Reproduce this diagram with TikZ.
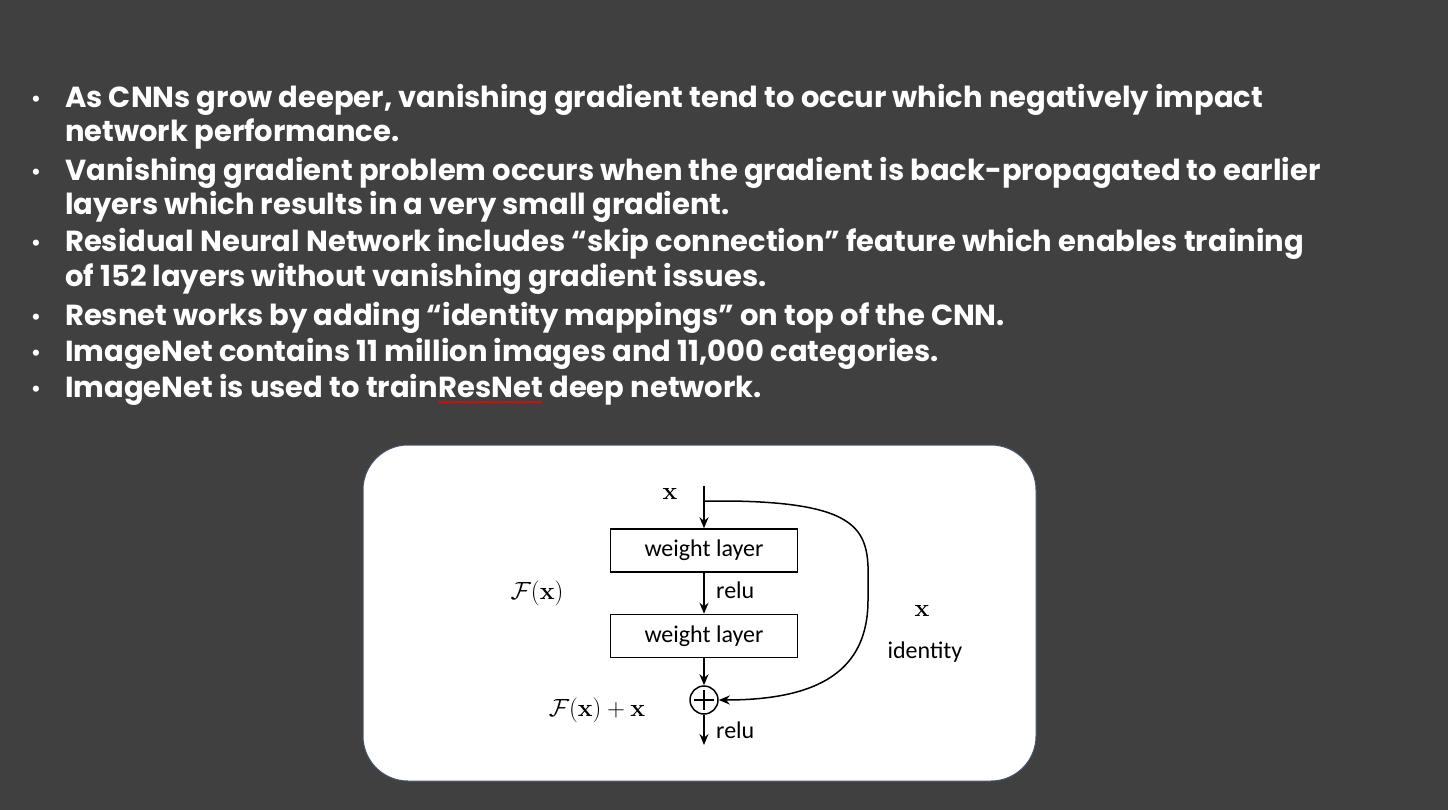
\documentclass[tikz,border=0pt]{standalone}
\usepackage[no-math]{fontspec}
\setmainfont{Poppins}
\newfontfamily\carlfont{Carlito}
\usetikzlibrary{decorations.pathmorphing,arrows.meta}
\begin{document}
\begin{tikzpicture}[x=1pt,y=-1pt,
  line/.style={font=\fontsize{29}{34}\selectfont\bfseries,text=white,anchor=base west,inner sep=0},
  bul/.style={font=\fontsize{25}{30}\selectfont,text=white,anchor=base,inner sep=0},
  wl/.style={draw,line width=1.5pt,minimum width=187pt,minimum height=43pt,font=\carlfont\fontsize{24}{26}\selectfont,inner sep=0},
  lbl/.style={font=\carlfont\fontsize{24}{26}\selectfont,inner sep=0},
  mth/.style={font=\fontsize{27}{29}\selectfont,inner sep=0},
  arr/.style={line width=1.5pt,-{Stealth[length=11pt,width=9pt]}}]
\useasboundingbox (0,0) rectangle (1448,810);
\fill[fill={rgb,255:red,64;green,64;blue,64}] (0,0) rectangle (1448,810);
\foreach \y in {108,181,252,325,361,397}{\node[bul] at (36,\y) {•};}
\node[line] (l1) at (65,108) {As CNNs grow deeper, vanishing gradient tend to occur which negatively impact};
\node[line] (l2) at (65,142) {network performance.};
\node[line] (l3) at (65,181) {Vanishing gradient problem occurs when the gradient is back-propagated to earlier};
\node[line] (l4) at (65,215) {layers which results in a very small gradient.};
\node[line] (l5) at (65,252) {Residual Neural Network includes “skip connection” feature which enables training};
\node[line] (l6) at (65,287) {of 152 layers without vanishing gradient issues.};
\node[line] (l7) at (65,325) {Resnet works by adding “identity mappings” on top of the CNN.};
\node[line] (l8) at (65,361) {ImageNet contains 11 million images and 11,000 categories.};
\node[line] (l9) at (65,397) {ImageNet is used to train\ };
\node[line] (l9b) at (l9.base east) {ResNet};
\node[line] (l9c) at (l9b.base east) {\ deep network.};
\draw[red,line width=0.8pt,decoration={snake,amplitude=1pt,segment length=3pt},decorate] ([yshift=-5pt]l9b.base west) -- ([yshift=-5pt]l9b.base east);
\node[draw={rgb,255:red,68;green,84;blue,106},fill=white,rounded corners=45pt,line width=1pt,minimum width=673pt,minimum height=336pt,inner sep=0] (panel) at (699.5,613) {};
\node[wl] (w1) at (704,550.5) {weight layer};
\node[wl] (w2) at (704,636) {weight layer};
\node[circle,draw,line width=1.5pt,minimum size=28pt,inner sep=0] (plus) at (704,700) {};
\draw[line width=1.5pt] ([xshift=-10pt]plus.center) -- ([xshift=10pt]plus.center) ([yshift=-10pt]plus.center) -- ([yshift=10pt]plus.center);
\coordinate (top) at (704,486);
\coordinate (out) at (704,745);
\draw[arr] (top) -- (w1.north);
\draw[arr] (w1.south) -- (w2.north);
\draw[arr] (w2.south) -- (plus.north);
\draw[arr] (plus.south) -- (out);
\draw[arr] (704,501) -- (730,501) .. controls (880,503) and (868,540) .. (868,600) .. controls (868,670) and (820,700) .. (plus.east);
\node[mth] (xin) at (670,494) {$\mathbf{x}$};
\node[mth] (fx) at (537,593) {$\mathcal{F}(\mathbf{x})$};
\node[lbl,anchor=west] (r1) at (716,590) {relu};
\node[mth] (xid) at (922,611) {$\mathbf{x}$};
\node[lbl] (id) at (925,652) {identity};
\node[mth] (fxx) at (597,710) {$\mathcal{F}(\mathbf{x})+\mathbf{x}$};
\node[lbl,anchor=west] (r2) at (716,730) {relu};
\end{tikzpicture}
\end{document}
